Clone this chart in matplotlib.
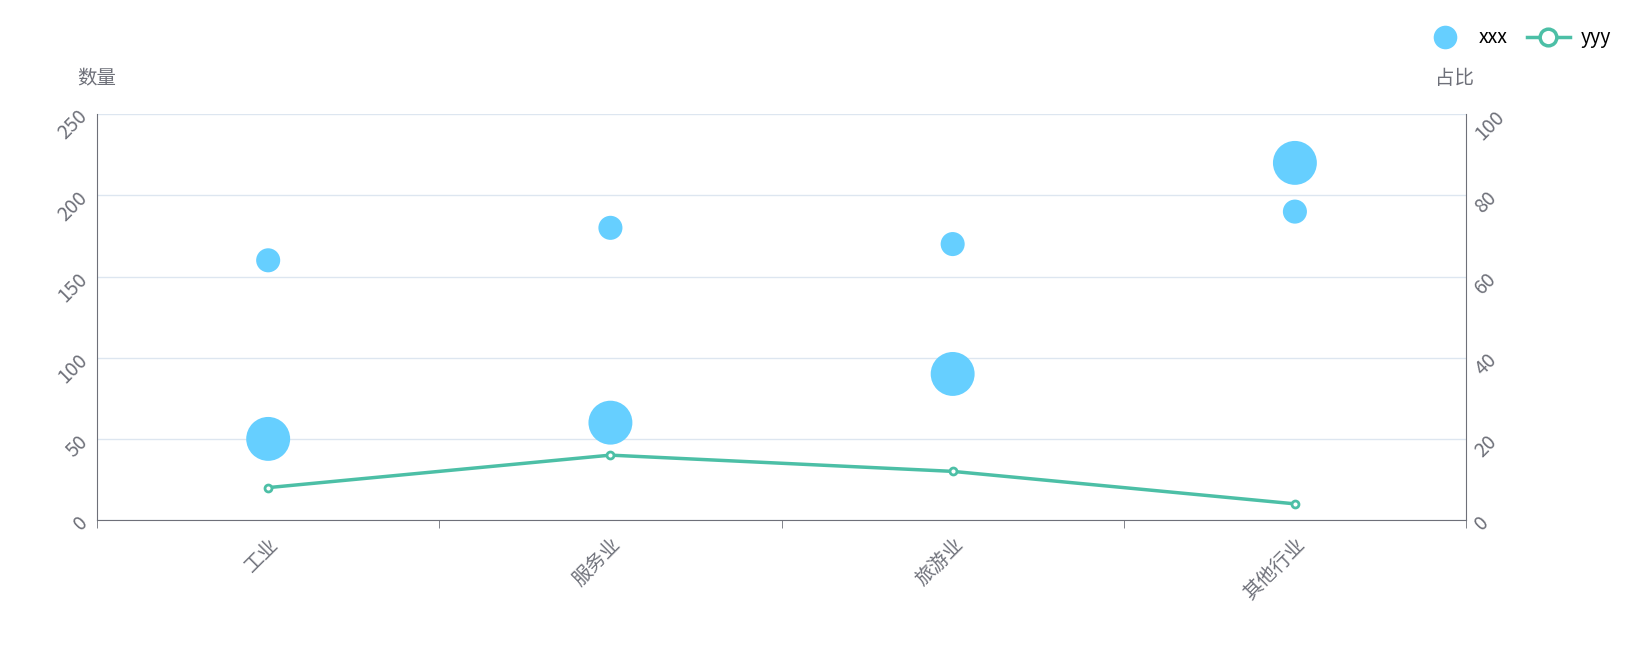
import matplotlib
matplotlib.use("Agg")
import matplotlib.pyplot as plt

plt.rcParams['font.family'] = ['Noto Sans CJK SC', 'DejaVu Sans']

categories = ['工业', '服务业', '旅游业', '其他行业']
bubble_cat = [0, 0, 1, 1, 2, 2, 3, 3]
bubble_val = [160, 50, 180, 60, 170, 90, 220, 190]
bubble_size = [1, 3, 1, 3, 1, 3, 3, 1]
line_val = [20, 40, 30, 10]

fig = plt.figure(figsize=(16.34, 6.6), dpi=100)
ax = fig.add_axes([0.0594, 0.212, 0.8378, 0.615])
ax2 = ax.twinx()

gray = '#6e7079'
bc = '#66cfff'
lc = '#4cbfa6'

ax.set_xlim(-0.5, 3.5)
ax.set_ylim(0, 250)
ax2.set_ylim(0, 100)
ax.set_yticks(range(0, 251, 50))
ax2.set_yticks(range(0, 101, 20))
ax.grid(axis='y', color='#dde6f0', lw=1)
ax.set_axisbelow(True)

sz = {1: 300, 3: 1000}
ax.scatter(bubble_cat, bubble_val, s=[sz[s] for s in bubble_size], color=bc, zorder=3, linewidths=0)
ax.plot(range(4), line_val, color=lc, lw=2.5, marker='o', markersize=5,
        markerfacecolor='white', markeredgecolor=lc, markeredgewidth=2, zorder=4)

ax.set_xticks(range(4))
ax.set_xticklabels(categories, rotation=45, ha='right', rotation_mode='anchor', fontsize=14, color=gray)
ax.set_xticks([-0.5, 0.5, 1.5, 2.5, 3.5], minor=True)
ax.tick_params(axis='x', which='major', length=0, pad=10)
ax.tick_params(axis='x', which='minor', length=6, color=gray)
for a in (ax, ax2):
    a.tick_params(axis='y', labelsize=14, labelcolor=gray, length=0, labelrotation=45)
    for s in ['top']:
        a.spines[s].set_visible(False)
    a.spines['left'].set_color(gray)
    a.spines['right'].set_color(gray)
    a.spines['bottom'].set_color(gray)
ax.spines['right'].set_visible(False)
ax2.spines['left'].set_visible(False)
ax2.spines['bottom'].set_visible(False)

fig.text(0.0594, 0.872, '数量', ha='center', fontsize=14, color=gray)
fig.text(0.890, 0.872, '占比', ha='center', fontsize=14, color=gray)

from matplotlib.lines import Line2D
h = [Line2D([], [], marker='o', ls='none', markersize=17, color=bc, markeredgewidth=0),
     Line2D([], [], marker='o', color=lc, lw=2.5, markersize=12, markerfacecolor='white',
            markeredgewidth=2.5, markeredgecolor=lc)]
fig.legend(h, ['xxx', 'yyy'], loc='upper right', bbox_to_anchor=(0.997, 0.985), ncol=2,
           frameon=False, fontsize=14, handlelength=2.2, columnspacing=1.0, handletextpad=0.6)

fig.savefig('out.png', dpi=100)
